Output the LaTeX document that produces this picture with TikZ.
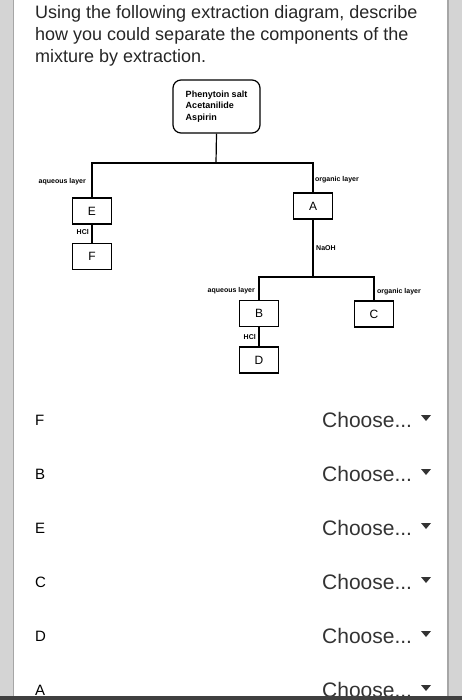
\documentclass[tikz,border=0pt]{standalone}
\usepackage{fontspec}
\setmainfont{Liberation Sans}
\begin{document}
\begin{tikzpicture}[x=1pt,y=-1pt,
		box/.style={draw,line width=1.2pt,minimum width=39pt,minimum height=26pt,inner sep=0pt,font=\fontsize{12}{14}\selectfont},
		lbl/.style={inner sep=0pt,font=\fontsize{7}{9}\bfseries\selectfont},
		item/.style={anchor=west,inner sep=0pt,font=\fontsize{15}{18}\selectfont},
		choose/.style={anchor=west,inner sep=0pt,text=black!80,font=\fontsize{21}{24}\selectfont}]
		\useasboundingbox (0,0) rectangle (462,700);
		\fill[black!17] (0,0) rectangle (14,700);
		\fill[black!35] (12.5,0) rectangle (14,700);
		\fill[black!17] (447,0) rectangle (462,700);
		\fill[black!35] (447,0) rectangle (448.5,700);

		\node (title) [anchor=north west,align=left,inner sep=0pt,text=black!85,font=\fontsize{18}{22}\selectfont] at (35,5) {Using the following extraction diagram, describe\\how you could separate the components of the\\mixture by extraction.};

		\node (mix) [draw,line width=1.2pt,rounded corners=8pt,minimum width=87pt,minimum height=53pt,align=left,font=\fontsize{9}{11.5}\bfseries\selectfont] at (216.5,106.5) {Phenytoin salt\\Acetanilide\\Aspirin};
		\coordinate (j1) at (216,163);
		\node (E) [box] at (92,211) {E};
		\node (F) [box] at (92,256.5) {F};
		\node (A) [box] at (313,206) {A};
		\coordinate (j2) at (313,277);
		\node (B) [box] at (259,313.5) {B};
		\node (D) [box] at (259,360) {D};
		\node (C) [box] at (374,314) {C};

		\draw[line width=1.2pt] (mix.south) -- (j1);
		\draw[line width=1.2pt] (E.north) |- (j1) -| (A.north);
		\draw[line width=1.2pt] (E) -- (F);
		\draw[line width=1.2pt] (A) -- (j2);
		\draw[line width=1.2pt] (B.north) |- (j2) -| (C.north);
		\draw[line width=1.2pt] (B) -- (D);

		\node (aq1) [lbl,anchor=east] at (86,182) {aqueous layer};
		\node (org1) [lbl,anchor=west] at (315,180) {organic layer};
		\node (hcl1) [lbl,anchor=east] at (89,232) {HCl};
		\node (naoh) [lbl,anchor=west] at (316,248) {NaOH};
		\node (aq2) [lbl,anchor=east] at (255,291) {aqueous layer};
		\node (org2) [lbl,anchor=west] at (377,292) {organic layer};
		\node (hcl2) [lbl,anchor=east] at (256,337) {HCl};

		\foreach \l/\y in {F/420,B/474,E/528,C/582,D/636,A/690} {
			\node (item\l) [item] at (35,\y) {\l};
			\node (choose\l) [choose] at (322,\y) {Choose...};
			\fill[black!80] (421,\y-5) -- (431,\y-5) -- (426,\y+1) -- cycle;
		}

		\fill[black!75] (0,696) rectangle (462,700);
	\end{tikzpicture}
\end{document}
